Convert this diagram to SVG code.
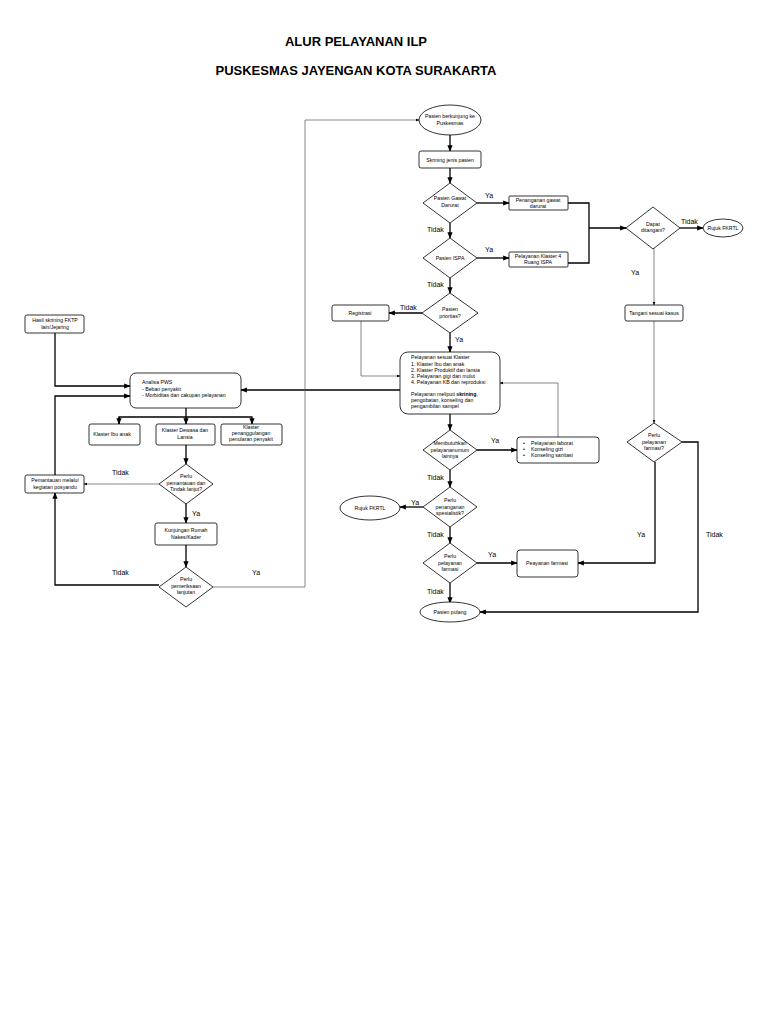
<svg xmlns="http://www.w3.org/2000/svg" width="768" height="1024" viewBox="0 0 768 1024">
<defs>
<marker id="a" viewBox="0 0 10 10" refX="9" refY="5" markerWidth="5" markerHeight="5" orient="auto"><path d="M0,1L10,5L0,9z" fill="#000"/></marker>
<style>
.n{fill:#fff;stroke:#000;stroke-width:0.8}
.t{font-family:"Liberation Sans",Arial,sans-serif;font-size:5.2px;fill:#000;text-anchor:middle}
.l{font-family:"Liberation Sans",Arial,sans-serif;font-size:7px;fill:#000}
.h{font-family:"Liberation Sans",Arial,sans-serif;font-size:13px;font-weight:bold;fill:#000;text-anchor:middle}
.c{fill:none;stroke:#000;stroke-width:1.3}
.g{fill:none;stroke:#555;stroke-width:0.7}
</style>
</defs>
<rect width="768" height="1024" fill="#fff"/>
<text class="h" x="356" y="46">ALUR PELAYANAN ILP</text>
<text class="h" x="356" y="75">PUSKESMAS JAYENGAN KOTA SURAKARTA</text>

<g id="connectors">
<path class="c" d="M450,135V151" marker-end="url(#a)"/>
<path class="c" d="M450,168V183" marker-end="url(#a)"/>
<path class="c" d="M477,203H509" marker-end="url(#a)"/>
<path class="c" d="M450,223V238" marker-end="url(#a)"/>
<path class="c" d="M477,258H509" marker-end="url(#a)"/>
<path class="c" d="M568,203H589V263H568"/>
<path class="c" d="M589,228H626" marker-end="url(#a)"/>
<path class="c" d="M680,228H703" marker-end="url(#a)"/>
<path class="g" d="M654,248V305" marker-end="url(#a)"/>
<path class="g" d="M654,321V423" marker-end="url(#a)"/>
<path class="c" d="M450,278V293" marker-end="url(#a)"/>
<path class="c" d="M422,313H389" marker-end="url(#a)"/>
<path class="c" d="M450,333V352" marker-end="url(#a)"/>
<path class="g" d="M361,321V376H400" marker-end="url(#a)"/>
<path class="g" d="M558,437V383H500" marker-end="url(#a)"/>
<path class="c" d="M450,414V430" marker-end="url(#a)"/>
<path class="c" d="M477,450H517" marker-end="url(#a)"/>
<path class="c" d="M450,470V487" marker-end="url(#a)"/>
<path class="c" d="M423,507H400" marker-end="url(#a)"/>
<path class="c" d="M450,527V543" marker-end="url(#a)"/>
<path class="c" d="M477,563H517" marker-end="url(#a)"/>
<path class="c" d="M450,583V603" marker-end="url(#a)"/>
<path class="c" d="M655,462V563H578" marker-end="url(#a)"/>
<path class="c" d="M682,442H698V612H480" marker-end="url(#a)"/>
<path class="c" d="M400,390H241" marker-end="url(#a)"/>
<path class="c" d="M55,333V386H130" marker-end="url(#a)"/>
<path class="c" d="M55,475V396H130" marker-end="url(#a)"/>
<path class="c" d="M186,408V417"/>
<path class="c" d="M119,424V417H252V424" marker-end="url(#a)"/>
<path class="c" d="M119,417V424" marker-end="url(#a)"/>
<path class="c" d="M186,417V424" marker-end="url(#a)"/>
<path class="c" d="M186,445V464" marker-end="url(#a)"/>
<path class="g" d="M159,484H84" marker-end="url(#a)"/>
<path class="c" d="M186,503V523" marker-end="url(#a)"/>
<path class="c" d="M186,545V567" marker-end="url(#a)"/>
<path class="c" d="M159,585H55V493" marker-end="url(#a)"/>
<path class="g" d="M213,587H305V120H419" marker-end="url(#a)"/>
</g>

<g id="labels">
<text class="l" x="485" y="198">Ya</text>
<text class="l" x="427" y="232">Tidak</text>
<text class="l" x="485" y="252">Ya</text>
<text class="l" x="427" y="287">Tidak</text>
<text class="l" x="400" y="310">Tidak</text>
<text class="l" x="455" y="342">Ya</text>
<text class="l" x="681" y="224">Tidak</text>
<text class="l" x="631" y="275">Ya</text>
<text class="l" x="491" y="443">Ya</text>
<text class="l" x="427" y="480">Tidak</text>
<text class="l" x="411" y="505">Ya</text>
<text class="l" x="427" y="537">Tidak</text>
<text class="l" x="488" y="557">Ya</text>
<text class="l" x="427" y="594">Tidak</text>
<text class="l" x="637" y="537">Ya</text>
<text class="l" x="706" y="537">Tidak</text>
<text class="l" x="112" y="475">Tidak</text>
<text class="l" x="192" y="516">Ya</text>
<text class="l" x="112" y="575">Tidak</text>
<text class="l" x="252" y="575">Ya</text>
</g>

<g id="start"><ellipse class="n" cx="450" cy="120" rx="31" ry="15"/><text class="t" x="450" y="118">Pasien berkunjung ke</text><text class="t" x="450" y="125">Puskesmas</text></g>
<g id="skrining"><rect class="n" x="419" y="151" width="62" height="17" rx="2"/><text class="t" x="450" y="161.5">Skrining jenis pasien</text></g>
<g id="gawat"><path class="n" d="M450,183L477,203L450,223L423,203z"/><text class="t" x="450" y="200">Pasien Gawat</text><text class="t" x="450" y="206.5">Darurat</text></g>
<g id="penanganan"><rect class="n" x="509" y="196" width="59" height="14" rx="1"/><text class="t" x="538" y="201.5">Penanganan gawat</text><text class="t" x="538" y="207.5">darurat</text></g>
<g id="ispa"><path class="n" d="M450,238L477,258L450,278L423,258z"/><text class="t" x="450" y="260">Pasien ISPA</text></g>
<g id="klaster4"><rect class="n" x="509" y="252" width="59" height="15" rx="1"/><text class="t" x="538" y="258">Pelayanan Klaster 4</text><text class="t" x="538" y="264">Ruang ISPA</text></g>
<g id="dapat"><path class="n" d="M653,207L680,228L653,249L626,228z"/><text class="t" x="653" y="226">Dapat</text><text class="t" x="653" y="232">ditangani?</text></g>
<g id="rujuk1"><ellipse class="n" cx="723" cy="228" rx="20" ry="9"/><text class="t" x="723" y="230">Rujuk FKRTL</text></g>
<g id="tangani"><rect class="n" x="625" y="305" width="58" height="16" rx="2"/><text class="t" x="654" y="315">Tangani sesuai kasus</text></g>
<g id="prioritas"><path class="n" d="M450,293L478,313L450,333L422,313z"/><text class="t" x="450" y="311">Pasien</text><text class="t" x="450" y="317.5">prioritas?</text></g>
<g id="registrasi"><rect class="n" x="332" y="305" width="57" height="16" rx="2"/><text class="t" x="360" y="315">Registrasi</text></g>
<g id="klaster"><rect class="n" x="400" y="352" width="100" height="62" rx="8"/>
<text class="t" style="text-anchor:start" x="411" y="359">Pelayanan sesuai Klaster</text>
<text class="t" style="text-anchor:start" x="411" y="365.5">1. Klaster Ibu dan anak</text>
<text class="t" style="text-anchor:start" x="411" y="371.5">2. Klaster Produktif dan lansia</text>
<text class="t" style="text-anchor:start" x="411" y="377.5">3. Pelayanan gigi dan mulut</text>
<text class="t" style="text-anchor:start" x="411" y="383.5">4. Pelayanan KB dan reproduksi</text>
<text class="t" style="text-anchor:start" x="411" y="396">Pelayanan meliputi <tspan font-weight="bold">skrining</tspan>,</text>
<text class="t" style="text-anchor:start" x="411" y="402">pengobatan, konseling dan</text>
<text class="t" style="text-anchor:start" x="411" y="408">pengambilan sampel</text></g>
<g id="membutuhkan"><path class="n" d="M450,430L477,450L450,470L423,450z"/><text class="t" x="450" y="445">Membutuhkan</text><text class="t" x="450" y="451.5">pelayananumum</text><text class="t" x="450" y="458">lainnya</text></g>
<g id="laborat"><rect class="n" x="517" y="437" width="82" height="26" rx="3"/>
<text class="t" style="text-anchor:start" x="523" y="445">•</text><text class="t" style="text-anchor:start" x="531" y="445">Pelayanan laborat</text>
<text class="t" style="text-anchor:start" x="523" y="451">•</text><text class="t" style="text-anchor:start" x="531" y="451">Konseling gizi</text>
<text class="t" style="text-anchor:start" x="523" y="457">•</text><text class="t" style="text-anchor:start" x="531" y="457">Konseling sanitasi</text></g>
<g id="spesialistik"><path class="n" d="M450,487L477,507L450,527L423,507z"/><text class="t" x="450" y="502">Perlu</text><text class="t" x="450" y="508.5">penanganan</text><text class="t" x="450" y="515">spesialistik?</text></g>
<g id="rujuk2"><ellipse class="n" cx="370" cy="508" rx="30" ry="12"/><text class="t" x="370" y="510">Rujuk FKRTL</text></g>
<g id="farmasiq"><path class="n" d="M450,543L477,563L450,583L423,563z"/><text class="t" x="450" y="558">Perlu</text><text class="t" x="450" y="564.5">pelayanan</text><text class="t" x="450" y="571">farmasi</text></g>
<g id="farmasi"><rect class="n" x="517" y="550" width="61" height="27" rx="3"/><text class="t" x="547" y="565">Peayanan farmasi</text></g>
<g id="pulang"><ellipse class="n" cx="450" cy="612" rx="30" ry="10"/><text class="t" x="450" y="614">Pasien pulang</text></g>
<g id="farmasiq2"><path class="n" d="M654,423L682,442L654,462L627,442z"/><text class="t" x="654" y="437">Perlu</text><text class="t" x="654" y="443.5">pelayanan</text><text class="t" x="654" y="450">farmasi?</text></g>

<g id="hasil"><rect class="n" x="25" y="315" width="59" height="18" rx="2"/><text class="t" x="55" y="322">Hasil skrining FKTP</text><text class="t" x="55" y="328.5">lain/Jejaring</text></g>
<g id="analisa"><rect class="n" x="130" y="373" width="111" height="35" rx="6"/>
<text class="t" style="text-anchor:start" x="142" y="384">Analisa PWS</text>
<text class="t" style="text-anchor:start" x="142" y="390.5">- Beban penyakit</text>
<text class="t" style="text-anchor:start" x="142" y="397">- Morbiditas dan cakupan pelayanan</text></g>
<g id="ibu"><rect class="n" x="89" y="424" width="51" height="21" rx="2"/><text class="t" x="112" y="436">Klaster Ibu anak</text></g>
<g id="dewasa"><rect class="n" x="156" y="424" width="59" height="21" rx="2"/><text class="t" x="185" y="432">Klaster Dewasa dan</text><text class="t" x="185" y="438.5">Lansia</text></g>
<g id="penanggulangan"><rect class="n" x="221" y="424" width="61" height="21" rx="2"/><text class="t" x="251" y="429">Klaster</text><text class="t" x="251" y="435">penanggulangan</text><text class="t" x="251" y="441">penularan penyakit</text></g>
<g id="pemantauanq"><path class="n" d="M186,464L213,484L186,504L159,484z"/><text class="t" x="186" y="478">Perlu</text><text class="t" x="186" y="484.5">pemantauan dan</text><text class="t" x="186" y="491">Tindak lanjut?</text></g>
<g id="pemantauan"><rect class="n" x="25" y="475" width="59" height="18" rx="2"/><text class="t" x="55" y="482">Pemantauan melalui</text><text class="t" x="55" y="488.5">kegiatan posyandu</text></g>
<g id="kunjungan"><rect class="n" x="155" y="523" width="62" height="22" rx="2"/><text class="t" x="186" y="532">Kunjungan Rumah</text><text class="t" x="186" y="538.5">Nakes/Kader</text></g>
<g id="pemeriksaan"><path class="n" d="M186,567L213,587L186,607L159,587z"/><text class="t" x="186" y="581">Perlu</text><text class="t" x="186" y="587.5">pemeriksaan</text><text class="t" x="186" y="594">lanjutan</text></g>
</svg>
